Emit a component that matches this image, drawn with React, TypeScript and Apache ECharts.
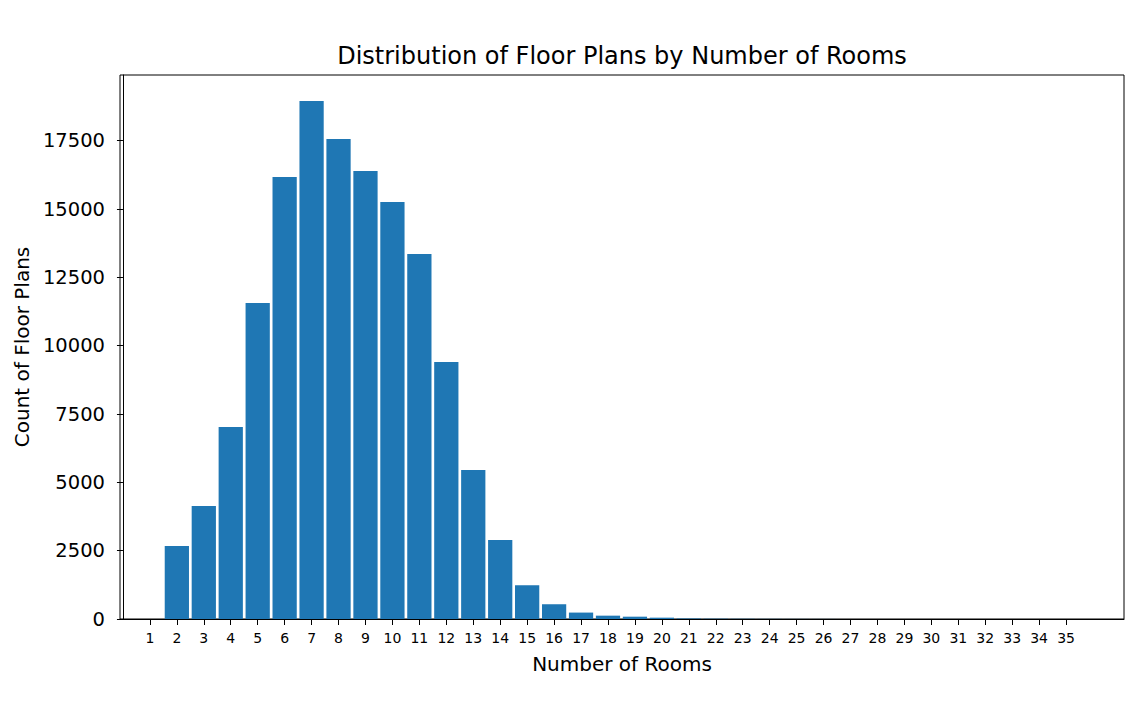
import React, { useEffect, useRef } from "react";
import * as echarts from "echarts";

const rooms: number[] = [
  1, 2, 3, 4, 5, 6, 7, 8, 9, 10, 11, 12, 13, 14, 15, 16, 17, 18, 19, 20,
  21, 22, 23, 24, 25, 26, 27, 28, 29, 30, 31, 32, 33, 34, 35,
];
const counts: number[] = [
  0, 2670, 4135, 7025, 11560, 16175, 18955, 17565, 16390, 15255, 13355,
  9405, 5450, 2890, 1235, 540, 235, 122, 85, 49, 20, 12, 8, 5, 3, 2, 0, 0,
  0, 0, 0, 0, 0, 0, 0,
];
const yTicks: number[] = [0, 2500, 5000, 7500, 10000, 12500, 15000, 17500];

const FONT = "DejaVu Sans";

export default function App() {
  const ref = useRef<HTMLDivElement>(null);
  useEffect(() => {
    if (!ref.current) return;
    const chart = echarts.init(ref.current, null, { renderer: "svg" });
    const data = rooms.map((r, i) => [r, counts[i]]);
    const yMax = Math.max(...counts) * 1.05;
    chart.setOption({
      animation: false,
      backgroundColor: "#ffffff",
      title: {
        text: "Distribution of Floor Plans by Number of Rooms",
        left: 617,
        top: 39,
        textAlign: "center",
        textStyle: {
          fontFamily: FONT,
          fontSize: 24,
          fontWeight: "normal",
          color: "#000",
        },
      },
      grid: {
        left: 120,
        right: 14,
        top: 75,
        bottom: 94,
        show: true,
        borderColor: "#000",
        borderWidth: 1,
        containLabel: false,
      },
      xAxis: {
        type: "value",
        min: -0.11,
        max: 37.15,
        name: "Number of Rooms",
        nameLocation: "middle",
        nameGap: 35,
        nameTextStyle: { fontFamily: FONT, fontSize: 20, color: "#000" },
        axisLine: { show: true, onZero: false, lineStyle: { color: "#000", width: 1 } },
        axisTick: {
          show: true,
          length: 6,
          customValues: rooms,
          lineStyle: { color: "#000", width: 1 },
        },
        axisLabel: {
          customValues: rooms,
          margin: 12,
          fontFamily: FONT,
          fontSize: 14,
          color: "#000",
          formatter: (v: number) => String(Math.round(v)),
        },
        splitLine: { show: false },
      },
      yAxis: {
        type: "value",
        min: 0,
        max: yMax,
        name: "Count of Floor Plans",
        nameLocation: "middle",
        nameGap: 88,
        nameTextStyle: { fontFamily: FONT, fontSize: 20, color: "#000" },
        axisLine: { show: true, lineStyle: { color: "#000", width: 1 } },
        axisTick: {
          show: true,
          length: 6,
          customValues: yTicks,
          lineStyle: { color: "#000", width: 1 },
        },
        axisLabel: {
          customValues: yTicks,
          margin: 15,
          fontFamily: FONT,
          fontSize: 19.5,
          color: "#000",
          formatter: (v: number) => String(Math.round(v)),
        },
        splitLine: { show: false },
      },
      series: [
        {
          type: "bar",
          data,
          barWidth: "90%",
          itemStyle: { color: "#1f77b4" },
        },
      ],
    });
    return () => chart.dispose();
  }, []);
  return (
    <div
      ref={ref}
      style={{ position: "fixed", left: 0, top: 0, width: 1138, height: 713 }}
    />
  );
}
